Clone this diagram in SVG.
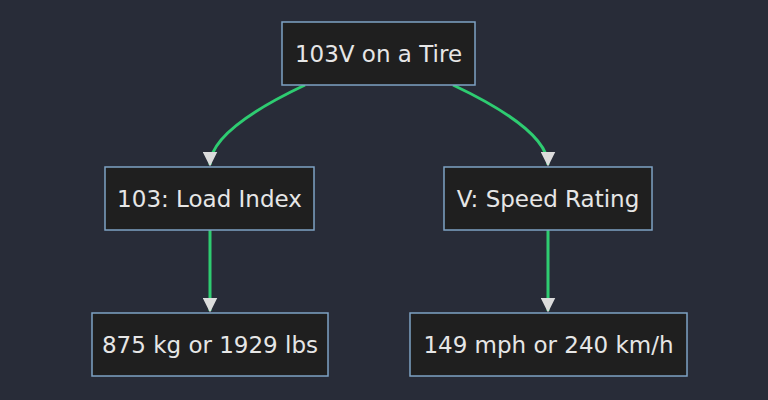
<svg xmlns="http://www.w3.org/2000/svg" width="768" height="400" viewBox="0 0 768 400">
<defs>
<style>
.n rect{fill:#1f1f1f;stroke:#7ea2c4;stroke-width:1.5}
.n text{fill:#e6e6e6;font-family:"DejaVu Sans","Open Sans",sans-serif;font-size:23px;text-anchor:middle;dominant-baseline:central}
.e path{fill:none;stroke:#2ecc71;stroke-width:3}
</style>
<marker id="a" viewBox="0 0 10 10" refX="9" refY="5" markerWidth="5" markerHeight="5" orient="auto"><path d="M0,0L10,5L0,10z" fill="#dcdcdc"/></marker>
</defs>
<rect width="768" height="400" fill="#282c38"/>
<g id="connectors" class="e">
<path d="M305,85 Q210,130 210,165" marker-end="url(#a)"/>
<path d="M453,85 Q548,130 548,165" marker-end="url(#a)"/>
<path d="M210,230 V311" marker-end="url(#a)"/>
<path d="M548,230 V311" marker-end="url(#a)"/>
</g>
<g id="top" class="n"><rect x="282" y="22" width="193" height="63"/><text x="378.5" y="53.5">103V on a Tire</text></g>
<g id="load" class="n"><rect x="105" y="167" width="209" height="63"/><text x="209.5" y="198.5">103: Load Index</text></g>
<g id="speed" class="n"><rect x="444" y="167" width="208" height="63"/><text x="548" y="198.5">V: Speed Rating</text></g>
<g id="kg" class="n"><rect x="92" y="313" width="236" height="63"/><text x="210" y="344.5">875 kg or 1929 lbs</text></g>
<g id="mph" class="n"><rect x="410" y="313" width="277" height="63"/><text x="548.5" y="344.5">149 mph or 240 km/h</text></g>
</svg>
